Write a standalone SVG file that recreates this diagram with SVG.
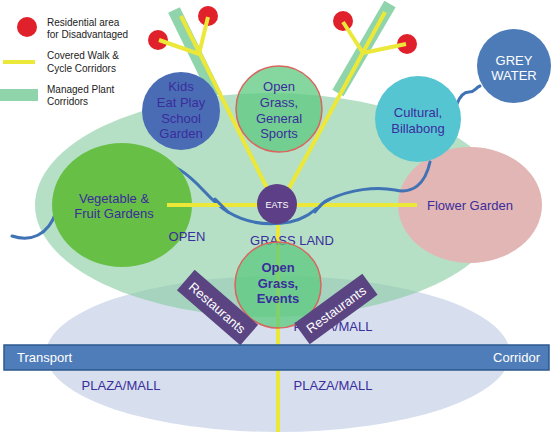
<svg xmlns="http://www.w3.org/2000/svg" width="553" height="432" viewBox="0 0 553 432">
<style>
text{font-family:"Liberation Sans",Arial,sans-serif;}
.lbl{fill:#3a2d9c;font-size:13px;text-anchor:middle;}
.leg{fill:#222;font-size:10px;}
.wt{fill:#fff;font-size:13px;}
.yl{stroke:#ece83a;stroke-width:4;fill:none;stroke-linecap:butt;}
.band{stroke:#8fd4ab;stroke-width:13;fill:none;}
.dot{fill:#e0202a;}
.stream{stroke:#3f73b6;stroke-width:3;fill:none;stroke-linecap:round;}
.og{fill:#5cc97f;fill-opacity:0.75;stroke:#d9655f;stroke-width:1.5;}
.rest{fill:#5a4582;}
</style>
<rect width="553" height="432" fill="#fff"/>
<g id="legend">
<circle class="dot" cx="27" cy="27" r="10"/>
<text class="leg" x="47" y="26">Residential area</text>
<text class="leg" x="47" y="38">for Disadvantaged</text>
<line class="yl" x1="3" y1="62" x2="35" y2="62" stroke-width="5"/>
<text class="leg" x="47" y="59">Covered Walk &amp;</text>
<text class="leg" x="47" y="72">Cycle Corridors</text>
<rect x="0" y="89" width="38" height="12" fill="#8fd4ab"/>
<text class="leg" x="47" y="93">Managed Plant</text>
<text class="leg" x="47" y="105">Corridors</text>
</g>
<g id="plaza"><ellipse cx="278" cy="354" rx="232" ry="78" fill="#d7dfee"/></g>
<g id="grassland"><ellipse cx="270" cy="205" rx="235" ry="112" fill="#84cb9e" fill-opacity="0.6"/></g>
<g id="flower-garden"><ellipse cx="470" cy="205" rx="72" ry="58" fill="#e2b6b4"/></g>
<g id="connectors">
<line class="band" x1="174" y1="10" x2="216" y2="96"/>
<line class="band" x1="390" y1="4" x2="338" y2="93"/>
<circle class="dot" cx="158" cy="40" r="10"/>
<circle class="dot" cx="208" cy="16" r="10"/>
<circle class="dot" cx="343" cy="21" r="10"/>
<circle class="dot" cx="407" cy="44" r="10"/>
<path class="yl" d="M181,16 L268,190 M199,54 L159,40 M199,54 L208,17"/>
<path class="yl" d="M385,12 L288,190 M363,53 L343,22 M363,53 L406,44"/>
<line class="yl" x1="278" y1="204" x2="278" y2="432"/>
<path class="stream" d="M12,236 C30,242 48,236 56,212 C80,150 150,150 180,170 C200,182 208,200 228,212 C248,224 268,226 290,222 C310,218 318,205 330,199 C350,190 375,186 395,190 C412,194 425,185 430,162"/>
<path class="stream" d="M457,104 C460,96 464,92 469,92 C475,92 475,88 480,86"/>
</g>
<g id="veg-garden"><ellipse cx="122" cy="205" rx="70" ry="62" fill="#68bf45"/>
<text class="lbl" x="114" y="203">Vegetable &amp;</text>
<text class="lbl" x="114" y="218">Fruit Gardens</text></g>
<line class="yl" x1="167" y1="205" x2="417" y2="205"/>
<path class="stream" d="M215,199 C222,206 226,210 228,212 M315,212 C320,205 325,201 330,199"/>
<g id="kids"><circle cx="181" cy="111" r="39" fill="#4a6cb5"/>
<text class="lbl" x="181" y="91">Kids</text>
<text class="lbl" x="181" y="107">Eat Play</text>
<text class="lbl" x="181" y="123">School</text>
<text class="lbl" x="181" y="138">Garden</text></g>
<g id="open-grass-sports"><circle class="og" cx="279" cy="109" r="43"/>
<text class="lbl" x="279" y="91">Open</text>
<text class="lbl" x="279" y="107">Grass,</text>
<text class="lbl" x="279" y="123">General</text>
<text class="lbl" x="279" y="138">Sports</text></g>
<g id="cultural"><circle cx="418" cy="119" r="43" fill="#56c5d2"/>
<text class="lbl" x="418" y="117">Cultural,</text>
<text class="lbl" x="418" y="133">Billabong</text></g>
<g id="grey-water"><circle cx="514" cy="66" r="37" fill="#4c7bb8"/>
<text class="wt" x="514" y="65" text-anchor="middle">GREY</text>
<text class="wt" x="514" y="80" text-anchor="middle">WATER</text></g>
<g id="flower-label"><text class="lbl" x="470" y="210">Flower Garden</text></g>
<g id="eats"><circle cx="277" cy="204" r="20" fill="#5c3f86"/>
<text x="277" y="208" fill="#fff" font-size="9" text-anchor="middle">EATS</text></g>
<g id="area-labels">
<text class="lbl" x="187" y="241" text-anchor="start">OPEN</text>
<text class="lbl" x="292" y="245" text-anchor="start">GRASS LAND</text>
<text class="lbl" x="333" y="331" text-anchor="start" font-size="12">PLAZA/MALL</text>
<text class="lbl" x="121" y="390" text-anchor="start" font-size="12">PLAZA/MALL</text>
<text class="lbl" x="333" y="390" text-anchor="start" font-size="12">PLAZA/MALL</text>
</g>
<g id="open-grass-events"><circle class="og" cx="278" cy="285" r="43" fill="#4fc07a"/>
<text class="lbl" x="278" y="272" font-weight="bold">Open</text>
<text class="lbl" x="278" y="288" font-weight="bold">Grass,</text>
<text class="lbl" x="278" y="303" font-weight="bold">Events</text></g>
<g id="restaurants-left" transform="translate(217.5,307.5) rotate(41)">
<rect class="rest" x="-42" y="-13.5" width="84" height="27"/>
<text class="wt" x="0" y="5" text-anchor="middle">Restaurants</text></g>
<g id="restaurants-right" transform="translate(336,309) rotate(-36)">
<rect class="rest" x="-42" y="-13" width="84" height="26"/>
<text class="wt" x="0" y="5" text-anchor="middle">Restaurants</text></g>
<g id="transport-corridor">
<rect x="4" y="345" width="545" height="25" fill="#4f7db9" stroke="#2c598f" stroke-width="1.5"/>
<text class="wt" x="17" y="362">Transport</text>
<text class="wt" x="540" y="362" text-anchor="end">Corridor</text></g>
</svg>
